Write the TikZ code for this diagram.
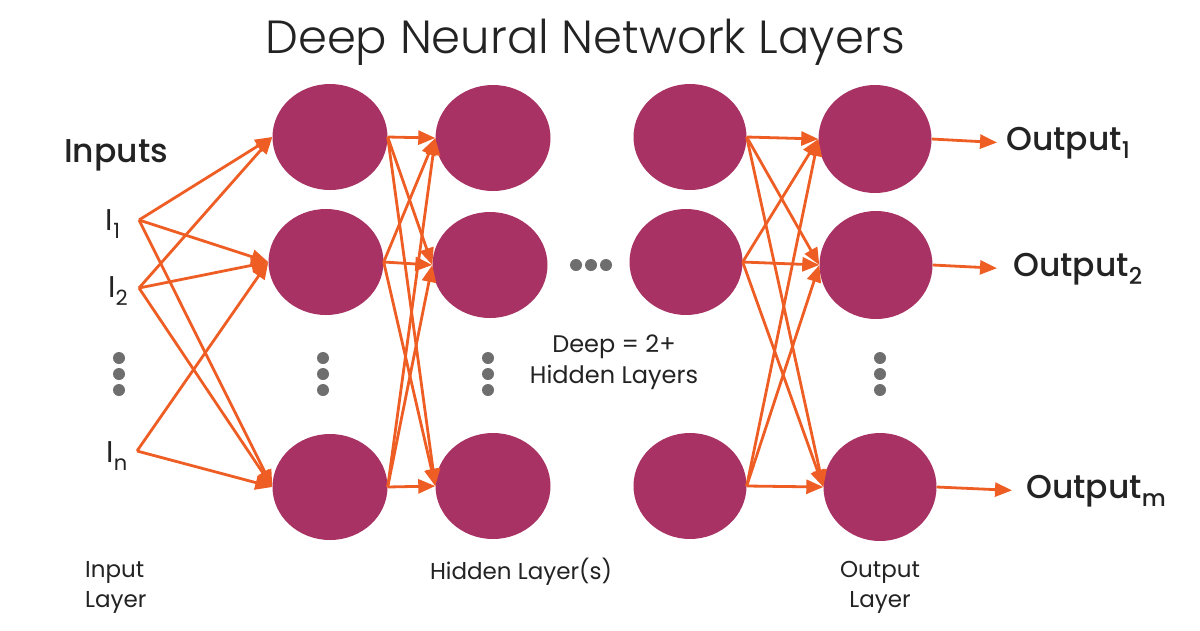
\documentclass[tikz,border=0pt]{standalone}
\usepackage{fontspec}
\setmainfont{Poppins}
\newfontfamily\titlefont{Poppins Light}
\newfontfamily\boldishfont{Poppins Medium}
\usetikzlibrary{shapes.geometric,arrows.meta}
\definecolor{nodepurple}{RGB}{168,50,99}
\definecolor{linkorange}{RGB}{238,94,36}
\definecolor{dotgray}{RGB}{110,110,110}
\definecolor{textgray}{RGB}{35,35,35}
\newcommand{\lowtxt}[1]{\raisebox{-0.25em}{\scalebox{0.7}{#1}}}
\newcommand{\fsz}[1]{\fontsize{#1}{1.3\dimexpr#1\relax}\selectfont}

\begin{document}
\begin{tikzpicture}[x=1pt, y=-1pt, textgray,
    neuron/.style = {ellipse, fill=nodepurple, inner sep=0pt, minimum width=115pt, minimum height=106pt},
    link/.style = {draw=linkorange, line width=2.8pt, -{Triangle[length=17pt,width=14pt]}},
    lbl/.style = {inner sep=0pt, text=textgray}]
    \useasboundingbox[fill=white] (0,0) rectangle (1200,630);

    % title
    \node[lbl] (title) at (585,42) {\titlefont\fsz{46.5pt}Deep Neural Network Layers};

    % inputs
    \node[lbl] (inputs) at (116,155) {\boldishfont\fsz{33pt}Inputs};
    \node[lbl] (lab1) at (113,224) {\fsz{30pt}I\lowtxt{1}};
    \node[lbl] (lab2) at (118,291) {\fsz{30pt}I\lowtxt{2}};
    \node[lbl] (labn) at (117,456) {\fsz{30pt}I\lowtxt{n}};
    \coordinate (s1) at (139,220);
    \coordinate (s2) at (139,288);
    \coordinate (s3) at (137,451);

    % hidden layers
    \node[neuron] (h1a) at (330,137) {};
    \node[neuron] (h1b) at (326,262) {};
    \node[neuron] (h1c) at (330,487) {};
    \node[neuron] (h2a) at (493,138) {};
    \node[neuron] (h2b) at (490,265) {};
    \node[neuron] (h2c) at (493,486) {};
    \node[neuron, minimum width=113pt] (h3a) at (690,137) {};
    \node[neuron, minimum width=113pt] (h3b) at (686,262) {};
    \node[neuron, minimum width=113pt] (h3c) at (690,486) {};

    % output layer
    \node[neuron, minimum width=113pt, minimum height=108pt] (o1) at (875,139) {};
    \node[neuron, minimum width=113pt, minimum height=108pt] (o2) at (876,265) {};
    \node[neuron, minimum width=113pt, minimum height=108pt] (o3) at (880,487) {};

    \node[lbl, anchor=west] (out1) at (1006,143) {\boldishfont\fsz{33pt}Output\lowtxt{1}};
    \node[lbl, anchor=west] (out2) at (1013,269) {\boldishfont\fsz{33pt}Output\lowtxt{2}};
    \node[lbl, anchor=west] (outm) at (1026,491) {\boldishfont\fsz{33pt}Output\lowtxt{m}};

    % dots
    \foreach \x in {119,323,488,880}
        \foreach \y in {358,374,390}
            \fill[dotgray] (\x,\y) circle (6pt);
    \foreach \x in {576,591,606}
        \fill[dotgray] (\x,265) circle (6pt);

    \node[lbl, align=center, font=\fsz{24pt}] (deep) at (614,362) {Deep = 2+\\Hidden Layers};

    % bottom captions
    \node[lbl, align=left, anchor=north west, font=\fsz{23pt}] (inlayer) at (85,561) {Input\\Layer};
    \node[lbl, font=\fsz{23pt}] (hidlayer) at (521,572) {Hidden Layer(s)};
    \node[lbl, align=center, anchor=north, font=\fsz{23pt}] (outlayer) at (880,561) {Output\\Layer};

    % connections
    \foreach \s/\t in {s1/h1a, s1/h1b, s1/h1c, s2/h1a, s2/h1b, s2/h1c, s3/h1b, s3/h1c}
        \draw[link] (\s) -- (\t.west);
    \foreach \a in {h1a,h1b,h1c}
        \foreach \b in {h2a,h2b,h2c}
            \draw[link] (\a.east) -- (\b.west);
    \foreach \a in {h3a,h3b,h3c}
        \foreach \b in {o1,o2,o3}
            \draw[link] (\a.east) -- (\b.west);
    \draw[link, shorten >=9pt] (o1.east) -- (out1.west);
    \draw[link, shorten >=16pt] (o2.east) -- (out2.west);
    \draw[link, shorten >=14pt] (o3.east) -- (outm.west);
\end{tikzpicture}
\end{document}
